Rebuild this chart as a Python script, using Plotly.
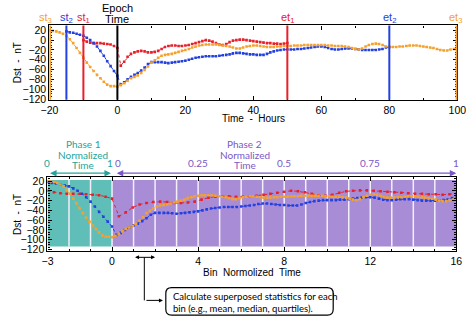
import numpy as np
import plotly.graph_objects as go

W, H = 474, 323

# ---------------- data (hourly superposed Dst, nT) ----------------
red_t0, red_t1 = -10, 50
red_dst = [0, -3, -5, -6, -6, -6, -7, -8, -9, -12, -16,
           -52, -44, -34, -28, -25, -23, -22, -23, -25, -25,
           -24, -22, -18, -14, -12, -11, -11, -12, -12, -11,
           -10, -8, -6, -4, -2, 0, -1, -3, -6, -9,
           -10, -8, -4, -1, 0, 1, 1, 0, -1, -2,
           -3, -4, -5, -6, -6, -7, -7, -8, -7, -6]

blue_t0, blue_t1 = -15, 80
blue_dst = [18, 16, 15, 13, 11, 9, 5, 0, -6, -13, -22, -32, -43, -53, -63, -73,
            -90, -86, -80, -75, -71, -67, -62, -56, -49, -45,
            -45, -45, -45, -46, -47, -46, -45, -44, -43, -42,
            -40, -38, -36, -35, -34, -33, -33, -33, -33, -32,
            -31, -30, -29, -27, -26, -26, -27, -28, -29, -29,
            -30, -30, -30, -28, -25, -23, -21, -20, -19, -19,
            -19, -19, -18, -18, -17, -16, -15, -14, -13, -13,
            -14, -16, -18, -19, -19, -18, -17, -17, -17, -18,
            -19, -20, -20, -20, -20, -20, -19, -18, -15, -14]

orange_t0, orange_t1 = -20, 100
orange_dst = [20, 19, 18, 16, 13, 9, 2, -6, -16, -26, -36, -46, -55, -63, -71, -78,
              -85, -91, -94, -94, -95,
              -92, -88, -83, -78, -75, -72, -67, -61, -54, -46,
              -41, -36, -32, -30, -29, -28, -26, -24, -22, -20,
              -18, -15, -13, -11, -10, -9, -9, -9, -9, -10,
              -11, -12, -13, -15, -17, -17, -15, -13, -12, -11,
              -11, -12, -13, -14, -14, -14, -13, -13, -12, -12,
              -12, -11, -11, -11, -10, -10, -10, -10, -10, -10,
              -10, -11, -11, -12, -12, -12, -13, -14, -16, -18,
              -19, -17, -13, -10, -8, -7, -8, -10, -13, -14,
              -14, -14, -13, -13, -12, -11, -11, -11, -12, -13,
              -14, -15, -16, -18, -20, -21, -21, -19, -18, -17]

RED, BLUE, ORANGE = "#e8202a", "#2340e0", "#f5a12e"
TEAL_FILL, PURPLE_FILL = "#5fbfb8", "#a88dd6"
TEAL_TXT, PURPLE_TXT = "#25a399", "#7a58c6"

series = [
    ("red", red_t0, red_t1, red_dst, RED),
    ("blue", blue_t0, blue_t1, blue_dst, BLUE),
    ("orange", orange_t0, orange_t1, orange_dst, ORANGE),
]

n_phase1_bins, n_phase2_bins = 3, 16
top_xticks = [-20, 0, 20, 40, 60, 80, 100]
bot_xticks = [-3, 0, 4, 8, 12, 16]
yticks = [20, 0, -20, -40, -60, -80, -100, -120]
phase1_labels = ["0", "1"]
phase2_labels = ["0", "0.25", "0.5", "0.75", "1"]
phase1_title = ["Phase 1", "Normalized", "Time"]
phase2_title = ["Phase 2", "Normalized", "Time"]
callout_lines = ["Calculate superposed statistics for each",
                 "bin (e.g., mean, median, quartiles)."]

# ---------------- layout geometry (pixels) ----------------
def px_x(a, b):
    return [a / W, b / W]

def px_y(top, bottom):
    return [1 - bottom / H, 1 - top / H]

def py(v):
    return 1 - v / H

fig = go.Figure()

for name, t0, t1, dst, col in series:
    t = np.arange(t0, t1 + 1)
    d = np.array(dst, dtype=float)
    fig.add_trace(go.Scatter(x=t, y=d, mode="lines+markers", xaxis="x", yaxis="y",
                             line=dict(color=col, width=1, dash="dot"),
                             marker=dict(symbol="square", size=2.6, color=col),
                             showlegend=False, hoverinfo="skip"))
    # normalized time
    xb = np.where(t <= 0, n_phase1_bins * t / abs(t0), n_phase2_bins * t / t1)
    fig.add_trace(go.Scatter(x=xb, y=d, mode="lines+markers", xaxis="x2", yaxis="y2",
                             line=dict(color=col, width=1, dash="dot"),
                             marker=dict(symbol="square", size=2.6, color=col),
                             showlegend=False, hoverinfo="skip"))

tickfont = dict(family="Liberation Sans, Arial", size=10.5, color="black")
axis_common = dict(showline=True, linecolor="black", linewidth=1.2, mirror="ticks",
                   ticks="inside", ticklen=4, tickcolor="black", showgrid=False,
                   zeroline=False, tickfont=tickfont)

fig.update_layout(
    width=W, height=H, margin=dict(l=0, r=0, t=0, b=0),
    plot_bgcolor="white", paper_bgcolor="white",
    xaxis=dict(domain=px_x(42, 466), range=[-20, 100], tickvals=top_xticks,
               minor=dict(dtick=10, ticks="inside", ticklen=2, tickcolor="black"),
               anchor="y", **axis_common),
    yaxis=dict(domain=px_y(24, 100), range=[-122, 30], tickvals=yticks,
               minor=dict(dtick=5, ticks="inside", ticklen=2, tickcolor="black"),
               anchor="x", **axis_common),
    xaxis2=dict(domain=px_x(40, 465), range=[-3, 16], tickvals=bot_xticks,
                minor=dict(dtick=1, ticks="inside", ticklen=2, tickcolor="black"),
                anchor="y2", **axis_common),
    yaxis2=dict(domain=px_y(179, 255), range=[-124, 28], tickvals=yticks,
                minor=dict(dtick=5, ticks="inside", ticklen=2, tickcolor="black"),
                anchor="x2", **axis_common),
)

shapes = []
# bin shading
edges = list(range(-n_phase1_bins, n_phase2_bins + 1))
for a, b in zip(edges[:-1], edges[1:]):
    fill = TEAL_FILL if b <= 0 else PURPLE_FILL
    shapes.append(dict(type="rect", xref="x2", yref="y2", x0=a, x1=b, y0=-114, y1=22,
                       fillcolor=fill, line=dict(width=0), layer="below"))
for e in edges[1:-1]:
    shapes.append(dict(type="line", xref="x2", yref="y2", x0=e, x1=e, y0=-114, y1=22,
                       line=dict(color="#f2eef8", width=1.5), layer="below"))

# start / end time lines
vlines = [(red_t0, RED, 2), (red_t1, RED, 2), (blue_t0, BLUE, 2), (blue_t1, BLUE, 2),
          (0, "black", 2), (orange_t0, ORANGE, 3.5), (orange_t1, ORANGE, 3.5)]
for xv, col, w in vlines:
    shapes.append(dict(type="line", xref="x", yref="y domain", x0=xv, x1=xv, y0=0, y1=1,
                       line=dict(color=col, width=w)))

# callout connector
shapes.append(dict(type="line", xref="x2", yref="paper", x0=1.5, x1=1.5, y0=py(261), y1=py(305),
                   line=dict(color="black", width=1)))
# rounded box
bx0, bx1, by0, by1, r = 163 / W, 337 / W, py(320), py(292), 6
rx, ry = r / W, r / H
path = (f"M {bx0+rx},{by0} L {bx1-rx},{by0} Q {bx1},{by0} {bx1},{by0+ry} "
        f"L {bx1},{by1-ry} Q {bx1},{by1} {bx1-rx},{by1} L {bx0+rx},{by1} "
        f"Q {bx0},{by1} {bx0},{by1-ry} L {bx0},{by0+ry} Q {bx0},{by0} {bx0+rx},{by0} Z")
shapes.append(dict(type="path", xref="paper", yref="paper", path=path,
                   line=dict(color="black", width=1.2), fillcolor="white"))
fig.update_layout(shapes=shapes)

ann = []
C = dict(xanchor="center", yanchor="middle", showarrow=False)
lab = dict(family="Liberation Sans, Arial", size=11)
for txt, xv, col, xs in [("st<sub>3</sub>", orange_t0, ORANGE, -4), ("st<sub>2</sub>", blue_t0, BLUE, 0),
                         ("st<sub>1</sub>", red_t0, RED, 0), ("et<sub>1</sub>", red_t1, RED, 0),
                         ("et<sub>2</sub>", blue_t1, BLUE, 0), ("et<sub>3</sub>", orange_t1, ORANGE, -2)]:
    ann.append(dict(C, text=txt, x=xv, y=py(16), xref="x", yref="paper", xshift=xs,
                    font=dict(lab, color=col)))
for txt, yy in [("Epoch", 6), ("Time", 17)]:
    ann.append(dict(C, text=txt, x=0, y=py(yy), xref="x", yref="paper",
                    font=dict(lab, color="black")))
ann.append(dict(C, text="Time  -  Hours", x=(42 + 466) / 2 / W, y=py(119.5), xref="paper",
                yref="paper", font=dict(lab, size=10, color="black")))
ann.append(dict(C, text="Bin  Normolized  Time", x=(40 + 465) / 2 / W, y=py(276), xref="paper",
                yref="paper", font=dict(lab, size=10, color="black")))
for yc in (62, 217):
    ann.append(dict(C, text="Dst  -  nT", x=9 / W, y=py(yc), xref="paper", yref="paper",
                    textangle=-90, font=dict(lab, size=10, color="black")))

rfont = dict(family="Lato, Open Sans", size=10)
# phase labels
for txt, xv in zip(phase1_labels, [-n_phase1_bins, 0]):
    ann.append(dict(C, text=txt, x=xv - (0.1 if txt == "1" else 0), y=py(165), xref="x2",
                    yref="paper", font=dict(rfont, color=TEAL_TXT)))
for i, txt in enumerate(phase2_labels):
    xv = n_phase2_bins * i / (len(phase2_labels) - 1)
    ann.append(dict(C, text=txt, x=xv + (0.27 if i == 0 else 0), y=py(165), xref="x2",
                    yref="paper", font=dict(rfont, color=PURPLE_TXT)))
for txt, yy in zip(phase1_title, [145, 156, 167]):
    ann.append(dict(C, text=txt, x=77 / W, y=py(yy), xref="paper", yref="paper",
                    font=dict(rfont, color=TEAL_TXT)))
for txt, yy in zip(phase2_title, [145, 156, 167]):
    ann.append(dict(C, text=txt, x=245 / W, y=py(yy), xref="paper", yref="paper",
                    font=dict(rfont, color=PURPLE_TXT)))
# phase arrows (horizontal: ay offset 0 pixels)
ann.append(dict(text="", x=-0.05, y=py(175), ax=-n_phase1_bins + 0.05, ay=0,
                xref="x2", yref="paper", axref="x2", ayref="pixel", showarrow=True,
                arrowhead=2, arrowsize=1, arrowwidth=1.3, arrowcolor=TEAL_TXT,
                arrowside="end+start", standoff=0, startstandoff=0))
ann.append(dict(text="", x=n_phase2_bins, y=py(175), ax=0.15, ay=0,
                xref="x2", yref="paper", axref="x2", ayref="pixel", showarrow=True,
                arrowhead=2, arrowsize=1, arrowwidth=1.3, arrowcolor=PURPLE_TXT,
                arrowside="end+start", standoff=0, startstandoff=0))
# bin arrow
ann.append(dict(text="", x=2, y=py(261), ax=1, ay=0, xref="x2", yref="paper",
                axref="x2", ayref="pixel", showarrow=True, arrowhead=2, arrowsize=0.8,
                arrowwidth=1, arrowcolor="black", arrowside="end+start"))
ann.append(dict(text="", x=160 / W, y=py(305), ax=-18, ay=0, xref="paper", yref="paper",
                axref="pixel", ayref="pixel", showarrow=True, arrowhead=2, arrowsize=0.8,
                arrowwidth=1, arrowcolor="black"))
for txt, yy in zip(callout_lines, [301, 313]):
    ann.append(dict(text=txt, x=168 / W, y=py(yy), xref="paper", yref="paper",
                    xanchor="left", yanchor="middle", showarrow=False,
                    font=dict(family="Lato, Open Sans", size=9.5, color="black")))
fig.update_layout(annotations=ann)

fig.write_html("out.html")
